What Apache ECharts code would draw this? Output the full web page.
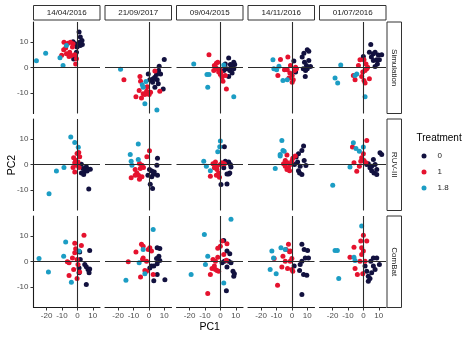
<!DOCTYPE html>
<html>
<head>
<meta charset="utf-8">
<script src="https://cdn.jsdelivr.net/npm/echarts@6/dist/echarts.min.js"></script>
<style>
  html, body { margin: 0; padding: 0; background: #fff; }
  #chart { width: 474px; height: 338px; }
</style>
</head>
<body>
<div id="chart"></div>
<script>
// Facet labels
const dates = ['14/04/2016', '21/09/2017', '09/04/2015', '14/11/2016', '01/07/2016'];
const methods = ['Simulation', 'RUV-III', 'ComBat'];
const treatments = ['0', '1', '1.8'];
const xTicks = [-20, -10, 0, 10];
const yTicks = [-10, 0, 10];

// PC1/PC2 scores: one array per method and treatment, one list of [PC1, PC2] per date
const simT0 = [
  [[1.1,13.9],[1.9,11.9],[3.0,10.6],[3.2,9.0],[0.6,9.3],[1.9,8.6],[-1.9,4.7],[-2.4,3.3],[-0.6,6.0],[-2.8,10.1],[-1.5,9.3],[1.5,9.9],[-0.2,8.0]],
  [[10.0,3.1],[6.7,0.5],[6.3,-1.2],[5.0,-2.7],[3.9,-3.8],[2.8,-4.4],[6.1,-6.4],[9.3,-8.4],[3.9,-7.7],[-0.4,-2.5],[2.4,-5.8],[0.6,-4.8],[7.6,-2.5],[5.4,-4.8]],
  [[5.4,3.7],[8.7,2.1],[9.3,1.2],[7.1,0.1],[6.1,-1.2],[7.6,-2.2],[3.9,-0.5],[5.4,-3.5],[3.2,1.4],[6.5,1.2],[8.7,-0.5],[2.2,-1.2]],
  [[10.0,6.9],[11.0,6.4],[7.8,5.6],[6.7,4.1],[8.2,2.1],[9.5,0.8],[12.1,0.4],[8.9,-1.2],[7.4,-0.5],[8.7,-3.5],[1.3,2.5],[2.4,-1.8],[10.0,-0.5],[11.0,2.7]],
  [[4.8,9.0],[6.5,5.4],[7.6,6.0],[9.7,4.9],[11.9,5.0],[5.2,4.1],[6.5,2.7],[8.7,3.0],[9.1,1.4],[7.6,0.4],[0,4.3],[3.9,6.0],[10.4,3.0]]
];
const simT1 = [
  [[-8.7,9.9],[-10.2,4.8],[-8.9,6.9],[-6.1,9.5],[-5.0,6.0],[-3.2,8.0],[-7.1,5.4],[-5.4,4.3],[-3.9,4.7],[-1.7,5.0],[-0.6,3.4],[-1.1,1.4],[-2.8,9.3],[-7.6,7.6],[-4.5,9.9]],
  [[-16.2,-4.8],[-8.4,-11.4],[-6.3,-9.0],[-4.8,-11.9],[-3.7,-10.3],[-1.5,-9.3],[-0.4,-9.7],[1.1,-9.7],[3.9,-1.4],[7.1,-9.3],[-5.8,-3.5],[-5.4,-5.4],[-2.6,-10.6],[0.2,-10.6],[-1.1,-7.5]],
  [[-7.4,5.0],[-3.2,0.1],[-4.3,-1.2],[-1.7,2.1],[-1.1,-1.8],[0,-2.7],[1.7,-5.4],[3.9,-8.4],[-2.2,-0.5],[-3.9,0.8],[-0.4,-0.8],[1.1,-3.8],[3.2,-3.1],[-2.6,1.7],[0.4,-2.0]],
  [[-7.4,3.1],[-2.6,4.1],[-0.9,0.8],[-4.8,-0.9],[-3.0,-0.9],[-9.1,-3.1],[-1.3,-2.2],[0.2,-3.1],[0.9,-4.8],[0.2,-5.8],[1.7,-1.2],[3.0,-0.5],[-1.9,-4.1],[2.4,0.1]],
  [[-6.5,-3.1],[-5.4,-4.8],[-3.2,0.8],[-2.2,3.0],[0.4,3.0],[1.7,1.4],[1.1,-1.2],[-0.4,-1.8],[0.4,-5.1],[1.1,-6.1],[3.9,-4.4],[2.2,-0.5],[2.8,0.1],[-1.1,-3.5]]
];
const simT18 = [
  [[-26.6,2.6],[-20.6,5.6],[-11.3,3.8],[-9.3,0.8],[-7.1,8.6]],
  [[-18.4,-0.7],[-4.3,-6.8],[-3.7,-7.7],[-2.6,-14.2],[5.2,-16.6],[-1.9,-5.5]],
  [[-17.3,1.4],[-8.7,-2.7],[-7.4,-2.7],[-8.2,-7.7],[8.7,-11.4],[2.2,1.0]],
  [[-12.3,3.0],[-11.7,-0.5],[-9.9,-0.9],[-8.4,0.5],[-5.8,-5.1],[-3.0,-4.8]],
  [[-14.7,1.0],[-18.4,-4.1],[-16.7,-6.1],[-4.3,-2.5],[1.1,-11.4],[-5.4,-3.1]]
];
const ruvT0 = [
  [[2.6,0.1],[3.7,-1.6],[4.8,-2.6],[5.8,-0.9],[6.9,-1.9],[8.4,-1.9],[2.6,-3.3],[4.1,-3.9],[7.4,-9.6],[6.3,-2.5]],
  [[0.4,-2.0],[1.9,-2.5],[3.0,-3.8],[1.9,-4.8],[5.6,2.4],[5.2,-0.3],[5.6,-4.2],[0.9,-7.7],[2.4,-9.4],[3.5,-2.9],[-0.6,-4.2]],
  [[2.6,6.9],[3.2,1.3],[5.4,1.0],[6.5,0],[6.9,-1.0],[4.3,-3.7],[6.1,-3.3],[4.3,-7.6],[0.4,-7.8],[2.2,-1.3],[5.4,-3.7]],
  [[7.6,7.2],[6.5,5.5],[4.3,4.2],[2.8,2.9],[3.7,1.0],[5.4,-0.7],[4.3,-2.4],[6.5,-3.9],[5.0,-3.3],[9.1,-0.4],[1.7,0],[8.0,1.6]],
  [[3.2,0.3],[4.3,-1.3],[5.4,-2.4],[6.9,-3.3],[8.7,-3.9],[6.5,2.0],[7.6,0],[8.7,-2.0],[10.8,4.6],[11.9,3.9],[5.4,-0.7],[2.2,0]]
];
const ruvT1 = [
  [[-2.4,2.6],[-1.1,1.7],[-0.2,4.3],[0.9,4.7],[1.5,3.0],[0.4,1.0],[-1.7,0.7],[-2.8,-1.2],[-1.7,-2.9],[1.1,-1.2],[-0.6,-0.3]],
  [[-11.5,-5.2],[-8.9,-2.0],[-7.8,-3.3],[-6.1,0.4],[-5.6,-1.6],[-6.1,-5.8],[-4.5,-0.3],[-3.5,-1.2],[-6.7,-4.2],[-1.3,3.0],[0.4,5.4],[-8.9,-4.2],[-4.5,-4.8]],
  [[-6.5,-4.6],[-4.8,0.3],[-3.2,1.0],[-2.2,-2.0],[-1.1,-3.3],[-2.6,-4.2],[0,0],[1.1,0.7],[2.6,0.3],[-3.9,-1.3],[-0.6,-5.0],[-2.2,-0.7]],
  [[-4.3,1.6],[-3.2,3.7],[-5.4,0.3],[-4.3,-0.7],[-2.8,0.7],[-2.2,-1.3],[-1.1,0],[0,1.3],[0.6,2.4],[-3.2,-2.0],[-1.5,-2.4],[2.2,3.3]],
  [[-7.1,6.8],[2.2,9.4],[-6.1,0.7],[-4.3,-2.6],[-2.6,-0.7],[-1.1,2.6],[0,4.2],[0.4,1.6],[1.7,0.7],[-1.7,1.3]]
];
const ruvT18 = [
  [[-18.4,-11.4],[-13.6,-2.5],[-8.7,-1.2],[-4.3,10.8],[-1.7,8.6],[0.6,6.7]],
  [[-12.1,3.9],[-11.5,1.3],[-11.0,-0.3],[-6.9,8.0],[-6.9,2.0]],
  [[-10.8,1.3],[-9.1,-0.7],[-6.5,-2.4],[-1.7,5.0],[-0.4,6.9],[0,9.2]],
  [[-10.8,-1.6],[-7.6,3.9],[-6.5,9.4],[-5.8,5.5],[-7.6,3.3],[-5.0,5.2]],
  [[-19.9,-8.1],[-8.7,-1.0],[-6.5,8.5],[-4.8,6.3],[-2.6,5.2],[0,6.8]]
];
const combatT0 = [
  [[1.5,3.7],[1.9,0.8],[1.1,-2.5],[4.8,-1.2],[5.8,-2.1],[6.9,-3.1],[8.0,-2.9],[7.6,-4.4],[5.8,-9.0],[8.0,4.3],[1.1,-4.4]],
  [[5.4,5.4],[7.1,5.1],[6.5,2.1],[7.1,0.4],[5.4,-0.9],[3.2,-1.8],[0.6,-2.5],[1.7,-1.8],[5.4,-5.1],[3.2,-7.5],[10.4,-7.1],[5.0,1.2]],
  [[2.2,8.2],[4.3,4.1],[6.1,3.0],[5.4,0.1],[6.9,-0.5],[4.3,-2.2],[8.2,-3.8],[9.1,-4.8],[8.7,-5.8],[3.9,-11.4],[2.6,0.1],[1.1,-0.5]],
  [[6.5,6.7],[8.0,4.7],[10.2,4.3],[8.7,1.4],[6.5,0.1],[5.4,-1.2],[10.8,1.4],[5.0,-3.5],[7.6,-5.1],[9.7,-5.4],[6.5,-12.9],[1.5,-1.8]],
  [[1.1,-1.8],[2.2,-3.8],[3.2,-5.8],[4.3,-6.7],[5.4,-4.4],[6.5,1.4],[8.7,1.4],[6.5,-1.8],[10.4,-1.2],[7.6,-3.1],[3.2,-7.7],[4.8,0.1]]
];
const combatT1 = [
  [[-6.5,-0.1],[-5.4,-0.5],[-2.4,-3.1],[-5.4,-5.5],[-1.7,7.1],[-1.1,5.0],[-0.2,0.8],[0.4,-1.2],[-0.2,-6.7],[1.5,-4.1],[2.6,6.3],[4.3,10.3],[-1.7,3.4],[-3.2,1.4]],
  [[-13.4,-0.1],[-8.4,3.7],[-5.4,-6.1],[-4.8,6.7],[-3.7,6.0],[-3.7,1.4],[-2.6,-3.5],[-1.5,-3.8],[-0.4,4.7],[0.6,5.4],[1.7,4.1],[2.8,-5.1],[-4.1,0.8],[-1.5,0.1]],
  [[-8.2,-12.5],[-6.5,-5.1],[-5.4,-2.7],[-4.8,0.8],[-3.2,0.1],[-3.9,-1.8],[-3.2,-3.1],[-2.2,-3.5],[-1.1,-3.8],[-1.7,1.7],[-1.7,5.2],[0,6.0],[1.1,8.0],[4.3,6.9],[2.2,2.7],[3.9,0.5]],
  [[-11.5,1.2],[-9.3,-9.3],[-6.5,-2.2],[-5.8,2.1],[-4.3,0.1],[-3.7,4.7],[-2.2,6.7],[-1.5,3.8],[-1.1,0.1],[-2.8,-2.7],[0,1.2],[0,-3.1],[0.6,-3.8],[-1.1,4.1]],
  [[-8.7,1.7],[-6.1,5.6],[-5.4,-2.7],[-3.9,-5.1],[-2.2,0.1],[-1.1,2.7],[-1.1,5.4],[0,4.1],[0,10.3],[1.1,0.1],[2.2,8.0],[-0.4,-4.8],[-1.7,8.0]]
];
const combatT18 = [
  [[-24.9,1.2],[-18.8,-4.1],[-8.9,2.1],[-7.6,7.6],[-3.9,-8.1],[1.1,4.1]],
  [[-14.9,-7.3],[-6.3,-0.5],[-2.6,-4.8],[2.8,12.5],[-3.7,4.7]],
  [[-19.0,-5.1],[-10.4,10.6],[-9.7,-1.2],[-8.2,2.1],[2.2,-8.4],[6.9,16.5]],
  [[-14.1,-3.1],[-13.0,4.1],[-10.2,-4.8],[-11.9,1.4],[-7.1,5.4],[-4.3,4.7]],
  [[-18.4,4.3],[-16.9,4.3],[-16.0,-6.7],[-6.1,1.7],[-5.4,0.4],[-1.1,13.9]]
];

// rows of the facet grid, in the order of `methods`; columns follow `treatments`
const panelData = [
  [simT0, simT1, simT18],
  [ruvT0, ruvT1, ruvT18],
  [combatT0, combatT1, combatT18]
];

const colors = ['#12113f', '#e5122e', '#1c9dc4'];
const font = '"Liberation Sans", Arial, sans-serif';

// panel geometry
const P = { left: 33.5, top: 22, w: 66.5, h: 91.5, colStep: 71.5, rowStep: 97 };
const X_MIN = -28.5, X_MAX = 14.7, Y_MIN = -18, Y_MAX = 17.8;

const grids = [], xAxes = [], yAxes = [], series = [], graphics = [];

methods.forEach((m, r) => {
  dates.forEach((d, c) => {
    const idx = r * dates.length + c;
    const isBottom = r === methods.length - 1;
    const isLeft = c === 0;
    grids.push({
      left: P.left + c * P.colStep, top: P.top + r * P.rowStep,
      width: P.w, height: P.h
    });
    xAxes.push({
      type: 'value', gridIndex: idx, min: X_MIN, max: X_MAX,
      axisLine: { show: isBottom, onZero: false, lineStyle: { color: '#1a1a1a', width: 1.1 } },
      axisTick: { show: isBottom, length: 3, customValues: xTicks, lineStyle: { color: '#333', width: 1 } },
      axisLabel: { show: isBottom, customValues: xTicks, margin: 4, fontSize: 8, color: '#4d4d4d', fontFamily: font },
      splitLine: { show: false }
    });
    yAxes.push({
      type: 'value', gridIndex: idx, min: Y_MIN, max: Y_MAX,
      axisLine: { show: isLeft, onZero: false, lineStyle: { color: '#1a1a1a', width: 1.1 } },
      axisTick: { show: isLeft, length: 3, customValues: yTicks, lineStyle: { color: '#333', width: 1 } },
      axisLabel: { show: isLeft, customValues: yTicks, margin: 5, fontSize: 8, color: '#4d4d4d', fontFamily: font },
      splitLine: { show: false }
    });
    // reference lines at PC1 = 0 and PC2 = 0
    series.push({
      type: 'scatter', xAxisIndex: idx, yAxisIndex: idx, data: [], z: 1, silent: true,
      markLine: {
        silent: true, symbol: 'none', animation: false,
        label: { show: false },
        lineStyle: { color: '#2b2b2b', width: 1.1, type: 'solid' },
        emphasis: { disabled: true },
        data: [{ xAxis: 0 }, { yAxis: 0 }]
      }
    });
    treatments.forEach((t, k) => {
      series.push({
        name: t, type: 'scatter', xAxisIndex: idx, yAxisIndex: idx, z: 3,
        symbol: 'circle', symbolSize: 5,
        itemStyle: { color: colors[k], opacity: 1 },
        emphasis: { disabled: true },
        animation: false,
        data: panelData[r][k][c]
      });
    });
  });
});

// facet strips along the top (dates)
dates.forEach((d, c) => {
  const x = P.left + c * P.colStep;
  graphics.push({
    type: 'rect', shape: { x: x, y: 5.5, width: P.w, height: 14.5 },
    style: { fill: '#fff', stroke: '#333', lineWidth: 1 }, silent: true
  });
  graphics.push({
    type: 'text', x: x + P.w / 2, y: 13, silent: true,
    style: { text: d, align: 'center', verticalAlign: 'middle', fontSize: 8, fill: '#1a1a1a', fontFamily: font }
  });
});
// facet strips on the right (methods)
methods.forEach((m, r) => {
  const y = P.top + r * P.rowStep;
  const x = P.left + 4 * P.colStep + P.w + 1;
  graphics.push({
    type: 'rect', shape: { x: x, y: y, width: 14.5, height: P.h },
    style: { fill: '#fff', stroke: '#333', lineWidth: 1 }, silent: true
  });
  graphics.push({
    type: 'text', x: x + 7.25, y: y + P.h / 2, rotation: -Math.PI / 2, silent: true,
    style: { text: m, align: 'center', verticalAlign: 'middle', fontSize: 8, fill: '#1a1a1a', fontFamily: font }
  });
});
// axis titles
graphics.push({
  type: 'text', x: 209.7, y: 327, silent: true,
  style: { text: 'PC1', align: 'center', verticalAlign: 'middle', fontSize: 10.5, fill: '#000', fontFamily: font }
});
graphics.push({
  type: 'text', x: 12, y: 165, rotation: Math.PI / 2, silent: true,
  style: { text: 'PC2', align: 'center', verticalAlign: 'middle', fontSize: 10.5, fill: '#000', fontFamily: font }
});
// legend title
graphics.push({
  type: 'text', x: 416.5, y: 138, silent: true,
  style: { text: 'Treatment', align: 'left', verticalAlign: 'middle', fontSize: 10, fill: '#000', fontFamily: font }
});

const chart = echarts.init(document.getElementById('chart'), null, { renderer: 'canvas' });
chart.setOption({
  animation: false,
  backgroundColor: '#fff',
  grid: grids,
  xAxis: xAxes,
  yAxis: yAxes,
  series: series,
  legend: {
    data: treatments, orient: 'vertical', left: 421.5, top: 150,
    icon: 'circle', itemWidth: 5, itemHeight: 5, itemGap: 4,
    selectedMode: false, padding: 0,
    textStyle: { fontSize: 8, color: '#1a1a1a', fontFamily: font, lineHeight: 12, padding: [0, 0, 0, 6] }
  },
  graphic: graphics
});
</script>
</body>
</html>
